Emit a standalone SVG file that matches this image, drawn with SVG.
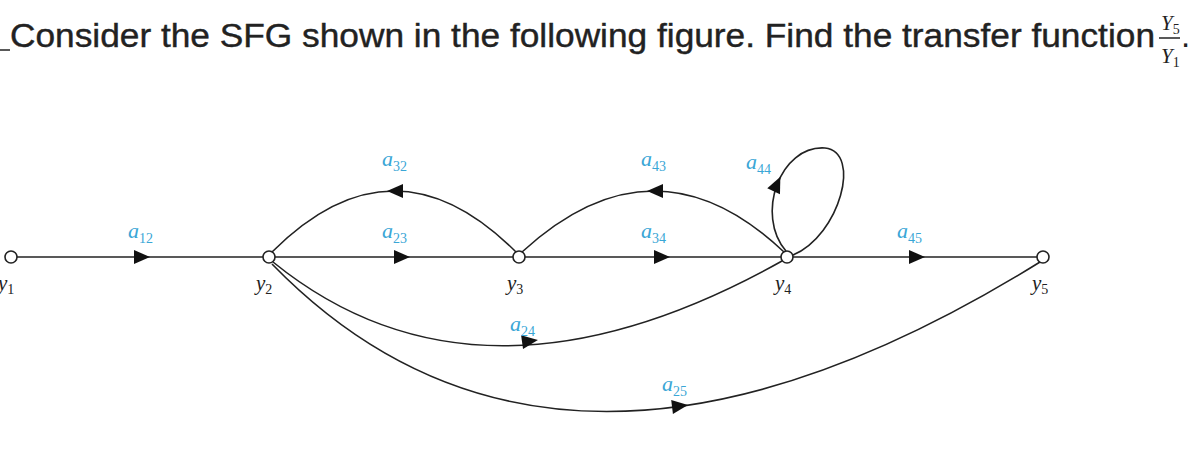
<svg xmlns="http://www.w3.org/2000/svg" width="1204" height="472" viewBox="0 0 1204 472">
<style>
.t{font-family:"Liberation Sans",Arial,sans-serif;font-size:33px;fill:#222}
.g{font-family:"Liberation Serif","Times New Roman",serif;font-style:italic;font-size:22px;fill:#3aa6d6}
.n{font-family:"Liberation Serif","Times New Roman",serif;font-style:italic;font-size:21px;fill:#222}
.s{font-size:14px}
.e{fill:none;stroke:#222;stroke-width:1.6}
.nd{fill:#fff;stroke:#222;stroke-width:1.6}
</style>
<defs><path id="ah" d="M-8,-7 L8,0 L-8,7 Z" fill="#111"/></defs>
<rect width="1204" height="472" fill="#fff"/>
<g id="title">
<line x1="0" y1="50" x2="10" y2="50" stroke="#222" stroke-width="1.5"/>
<text class="t" x="10" y="47" textLength="1145" lengthAdjust="spacingAndGlyphs" stroke="#222" stroke-width="0.4">Consider the SFG shown in the following figure. Find the transfer function</text>
<text class="n" x="1161" y="30" font-size="18">Y<tspan class="s" dy="4" font-style="normal">5</tspan></text>
<line x1="1159" y1="38" x2="1180" y2="38" stroke="#222" stroke-width="1.5"/>
<text class="n" x="1161" y="63" font-size="18">Y<tspan class="s" dy="4" font-style="normal">1</tspan></text>
<text class="t" x="1181" y="47">.</text>
</g>
<g id="connectors">
<line class="e" x1="17" y1="257" x2="1037" y2="257"/>
<path class="e" d="M272,252 Q394,130 516,252"/>
<path class="e" d="M522,252 Q655,130 784,252"/>
<path class="e" d="M786,251 C755,215 780,145 825,148 C862,152 840,235 793,255"/>
<path class="e" d="M273,262 Q480,430 782,261"/>
<path class="e" d="M272,264 Q560,560 1040,262"/>
<use href="#ah" transform="translate(142,257)"/>
<use href="#ah" transform="translate(402,257)"/>
<use href="#ah" transform="translate(662,257)"/>
<use href="#ah" transform="translate(917,257)"/>
<use href="#ah" transform="translate(395,191) rotate(180)"/>
<use href="#ah" transform="translate(655,191) rotate(180)"/>
<use href="#ah" transform="translate(777,184) rotate(-65)"/>
<use href="#ah" transform="translate(530,341) rotate(-8)"/>
<use href="#ah" transform="translate(680,406) rotate(-7)"/>
<text class="g" x="128" y="238">a<tspan class="s" dy="5" font-style="normal">12</tspan></text>
<text class="g" x="382" y="166">a<tspan class="s" dy="5" font-style="normal">32</tspan></text>
<text class="g" x="382" y="238">a<tspan class="s" dy="5" font-style="normal">23</tspan></text>
<text class="g" x="641" y="166">a<tspan class="s" dy="5" font-style="normal">43</tspan></text>
<text class="g" x="641" y="238">a<tspan class="s" dy="5" font-style="normal">34</tspan></text>
<text class="g" x="746" y="169">a<tspan class="s" dy="5" font-style="normal">44</tspan></text>
<text class="g" x="897" y="238">a<tspan class="s" dy="5" font-style="normal">45</tspan></text>
<text class="g" x="510" y="331">a<tspan class="s" dy="5" font-style="normal">24</tspan></text>
<text class="g" x="662" y="391">a<tspan class="s" dy="5" font-style="normal">25</tspan></text>
</g>
<g id="y1"><circle class="nd" cx="11" cy="257" r="6"/><text class="n" x="-2" y="290">y<tspan class="s" dy="4" font-style="normal">1</tspan></text></g>
<g id="y2"><circle class="nd" cx="269" cy="257" r="6"/><text class="n" x="256" y="290">y<tspan class="s" dy="4" font-style="normal">2</tspan></text></g>
<g id="y3"><circle class="nd" cx="519" cy="257" r="6"/><text class="n" x="507" y="290">y<tspan class="s" dy="4" font-style="normal">3</tspan></text></g>
<g id="y4"><circle class="nd" cx="787" cy="257" r="6"/><text class="n" x="775" y="290">y<tspan class="s" dy="4" font-style="normal">4</tspan></text></g>
<g id="y5"><circle class="nd" cx="1043" cy="257" r="6"/><text class="n" x="1032" y="290">y<tspan class="s" dy="4" font-style="normal">5</tspan></text></g>
</svg>
